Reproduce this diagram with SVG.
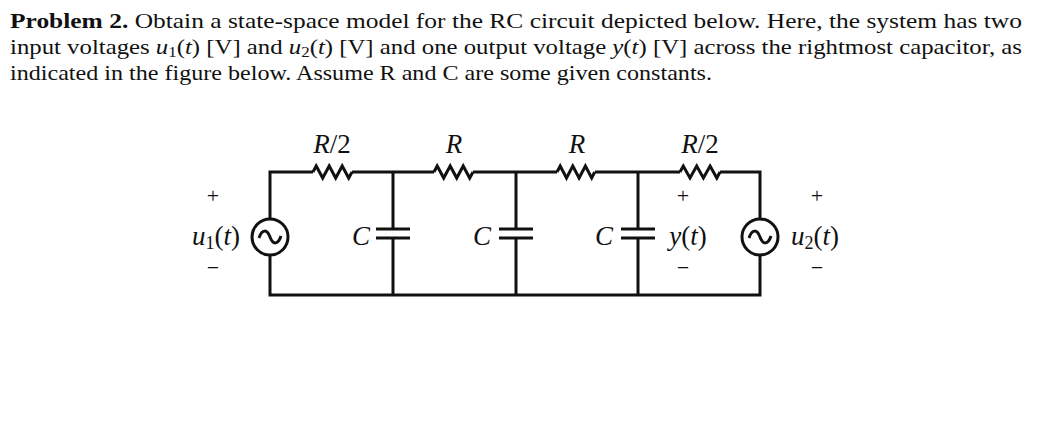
<svg xmlns="http://www.w3.org/2000/svg" width="1050" height="424" viewBox="0 0 1050 424">
<style>
.t{font-family:"Liberation Serif","DejaVu Serif",serif;font-size:22px;fill:#111}
.m{font-family:"Liberation Serif","DejaVu Serif",serif;font-size:27px;fill:#111;font-style:italic}
.n{font-family:"Liberation Serif","DejaVu Serif",serif;font-size:22px;fill:#111}
.w{stroke:#111;stroke-width:3;fill:none;stroke-linejoin:miter}
</style>
<rect width="1050" height="424" fill="#fff"/>
<g id="text">
<text class="t" x="10" y="28" textLength="1012" lengthAdjust="spacingAndGlyphs"><tspan font-weight="bold">Problem 2.</tspan> Obtain a state-space model for the RC circuit depicted below. Here, the system has two</text>
<text class="t" x="10" y="54" textLength="1012" lengthAdjust="spacingAndGlyphs">input voltages <tspan font-style="italic">u</tspan><tspan font-size="15" dy="3">1</tspan><tspan dy="-3">(</tspan><tspan font-style="italic">t</tspan>) [V] and <tspan font-style="italic">u</tspan><tspan font-size="15" dy="3">2</tspan><tspan dy="-3">(</tspan><tspan font-style="italic">t</tspan>) [V] and one output voltage <tspan font-style="italic">y</tspan>(<tspan font-style="italic">t</tspan>) [V] across the rightmost capacitor, as</text>
<text class="t" x="10" y="80" textLength="702" lengthAdjust="spacingAndGlyphs">indicated in the figure below. Assume R and C are some given constants.</text>
</g>
<g id="connectors">
<path class="w" d="M270,219 V172 H313 M352,172 H434 M473,172 H557 M595,172 H680 M720,172 H760 V219 M760,255 V295 H270 V255"/>
<path class="w" d="M393,172 V229 M393,238 V295 M516,172 V229 M516,238 V295 M638,172 V229 M638,238 V295"/>
</g>
<g id="R1"><path class="w" d="M313,172 l3.2,-6 l6.5,12 l6.5,-12 l6.5,12 l6.5,-12 l6.5,12 l3.3,-6"/><text class="m" x="332" y="153" text-anchor="middle">R<tspan font-style="normal">/2</tspan></text></g>
<g id="R2"><path class="w" d="M434,172 l3.2,-6 l6.5,12 l6.5,-12 l6.5,12 l6.5,-12 l6.5,12 l3.3,-6"/><text class="m" x="454" y="153" text-anchor="middle">R</text></g>
<g id="R3"><path class="w" d="M557,172 l3.2,-6 l6.3,12 l6.3,-12 l6.3,12 l6.3,-12 l6.3,12 l3,-6"/><text class="m" x="577" y="153" text-anchor="middle">R</text></g>
<g id="R4"><path class="w" d="M680,172 l3.3,-6 l6.7,12 l6.7,-12 l6.7,12 l6.7,-12 l6.7,12 l3.2,-6"/><text class="m" x="700" y="153" text-anchor="middle">R<tspan font-style="normal">/2</tspan></text></g>
<g id="C1"><path class="w" d="M376,229 H410 M376,238 H410"/><text class="m" x="361" y="245" text-anchor="middle">C</text></g>
<g id="C2"><path class="w" d="M499,229 H533 M499,238 H533"/><text class="m" x="482" y="245" text-anchor="middle">C</text></g>
<g id="C3"><path class="w" d="M621,229 H655 M621,238 H655"/><text class="m" x="604" y="245" text-anchor="middle">C</text></g>
<g id="U1"><circle class="w" cx="270" cy="237" r="18"/><path class="w" d="M259,238 c3,-9 8,-9 11,-1 c3,8 8,8 11,-1"/>
<text class="n" x="213" y="203" text-anchor="middle" font-size="20">+</text>
<text class="m" x="216" y="245" text-anchor="middle">u<tspan font-style="normal" font-size="18" dy="4">1</tspan><tspan font-style="normal" dy="-4">(</tspan>t<tspan font-style="normal">)</tspan></text>
<text class="n" x="213" y="275" text-anchor="middle" font-size="20">−</text></g>
<g id="U2"><circle class="w" cx="760" cy="237" r="18"/><path class="w" d="M749,238 c3,-9 8,-9 11,-1 c3,8 8,8 11,-1"/>
<text class="n" x="817" y="203" text-anchor="middle" font-size="20">+</text>
<text class="m" x="815" y="245" text-anchor="middle">u<tspan font-style="normal" font-size="18" dy="4">2</tspan><tspan font-style="normal" dy="-4">(</tspan>t<tspan font-style="normal">)</tspan></text>
<text class="n" x="817" y="275" text-anchor="middle" font-size="20">−</text></g>
<g id="Y">
<text class="n" x="683" y="203" text-anchor="middle" font-size="20">+</text>
<text class="m" x="688" y="245" text-anchor="middle">y<tspan font-style="normal">(</tspan>t<tspan font-style="normal">)</tspan></text>
<text class="n" x="683" y="275" text-anchor="middle" font-size="20">−</text></g>
</svg>
